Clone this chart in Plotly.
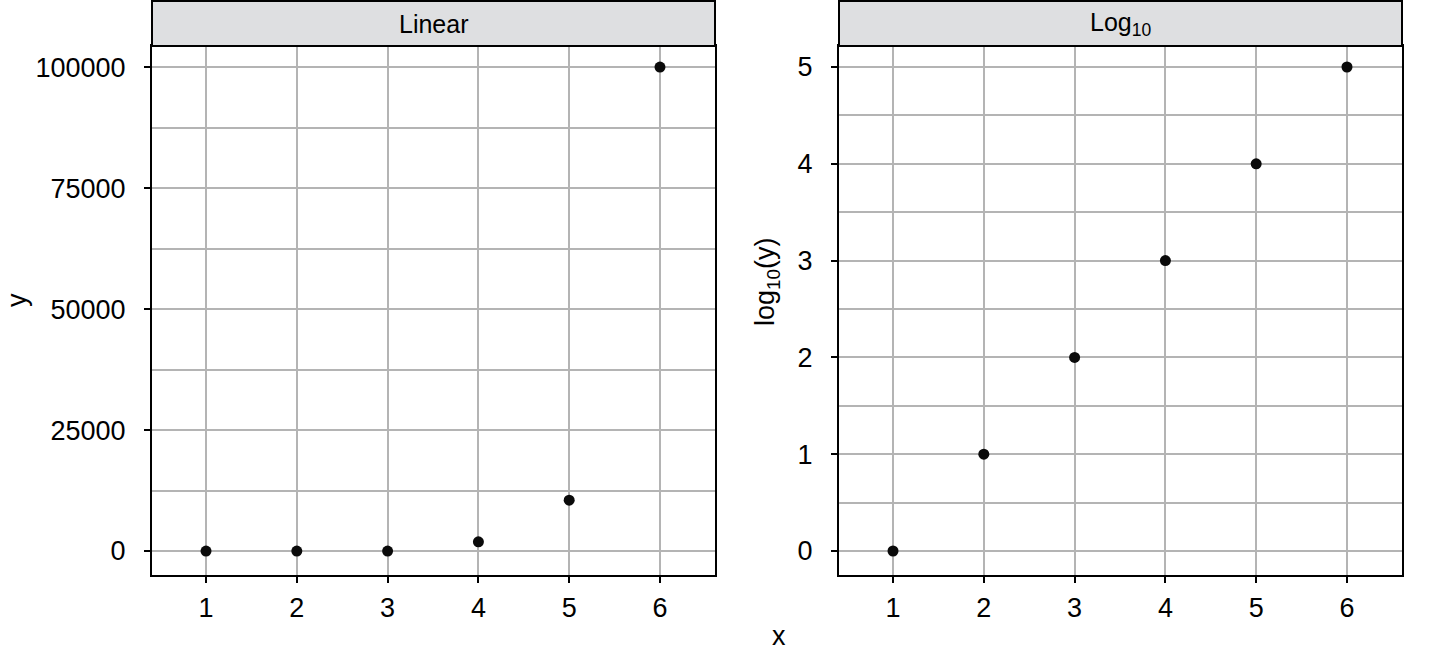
import plotly.graph_objects as go

# data
x_vals = [1, 2, 3, 4, 5, 6]
linear_y = [0, 0, 0, 1900, 10500, 100000]
log10_y = [0, 1, 2, 3, 4, 5]
x_ticks = [1, 2, 3, 4, 5, 6]
linear_ticks = [0, 25000, 50000, 75000, 100000]
log_ticks = [0, 1, 2, 3, 4, 5]
panel_titles = ["Linear", "Log<sub>10</sub>"]

W, H = 1430, 653
FONT = "Liberation Sans, Arial, sans-serif"
GRID = "#b4b4b4"

# panel positions (pixels -> paper fractions)
left_dom = [152 / W, 715 / W]
right_dom = [839 / W, 1402 / W]
y_dom = [1 - 575 / H, 1 - 46 / H]
strip_top = 1 - 1 / H

fig = go.Figure()
fig.add_trace(go.Scatter(x=x_vals, y=linear_y, mode="markers", xaxis="x", yaxis="y",
                         marker=dict(color="#0a0a0a", size=11), showlegend=False))
fig.add_trace(go.Scatter(x=x_vals, y=log10_y, mode="markers", xaxis="x2", yaxis="y2",
                         marker=dict(color="#0a0a0a", size=11), showlegend=False))

axis_common = dict(
    showline=True, linecolor="black", linewidth=2, mirror=True,
    ticks="outside", ticklen=6, tickwidth=2, tickcolor="black",
    showgrid=True, gridcolor=GRID, gridwidth=1.6, zeroline=False,
    tickfont=dict(family=FONT, size=27, color="black"),
    tickformat="d",
)

fig.update_layout(
    width=W, height=H,
    margin=dict(l=0, r=0, t=0, b=0),
    paper_bgcolor="white", plot_bgcolor="white",
    font=dict(family=FONT, color="black"),
    xaxis=dict(domain=left_dom, range=[0.405, 6.606], tickvals=x_ticks,
               anchor="y", ticklabelstandoff=2, **axis_common),
    yaxis=dict(domain=y_dom, range=[-4950, 104350], tickvals=linear_ticks,
               anchor="x", ticklabelstandoff=13,
               minor=dict(dtick=12500, tick0=0, showgrid=True, gridcolor=GRID, gridwidth=1.6, ticks=""),
               **axis_common),
    xaxis2=dict(domain=right_dom, range=[0.405, 6.606], tickvals=x_ticks,
                anchor="y2", ticklabelstandoff=2, **axis_common),
    yaxis2=dict(domain=y_dom, range=[-0.248, 5.217], tickvals=log_ticks,
                anchor="x2", ticklabelstandoff=13,
                minor=dict(dtick=0.5, tick0=0, showgrid=True, gridcolor=GRID, gridwidth=1.6, ticks=""),
                **axis_common),
)

# facet strips
for dom, title in zip([left_dom, right_dom], panel_titles):
    fig.add_shape(type="rect", xref="paper", yref="paper",
                  x0=dom[0], x1=dom[1], y0=y_dom[1], y1=strip_top,
                  fillcolor="#dedfe1", line=dict(color="black", width=2))
    fig.add_annotation(text=title, xref="paper", yref="paper",
                       x=(dom[0] + dom[1]) / 2, y=(y_dom[1] + strip_top) / 2,
                       showarrow=False, xanchor="center", yanchor="middle",
                       font=dict(family=FONT, size=25, color="black"))

# axis titles
fig.add_annotation(text="y", xref="paper", yref="paper", x=17 / W, y=1 - 300 / H,
                   textangle=-90, showarrow=False, xanchor="center", yanchor="middle",
                   font=dict(family=FONT, size=27, color="black"))
fig.add_annotation(text="log<sub>10</sub>(y)", xref="paper", yref="paper", x=767 / W, y=1 - 282 / H,
                   textangle=-90, showarrow=False, xanchor="center", yanchor="middle",
                   font=dict(family=FONT, size=27, color="black"))
fig.add_annotation(text="x", xref="paper", yref="paper", x=779 / W, y=1 - 636 / H,
                   showarrow=False, xanchor="center", yanchor="middle",
                   font=dict(family=FONT, size=27, color="black"))

# drop the default page margin so the figure sits at the window's corner
fig.write_html("out.html", config={"displayModeBar": False},
               post_script="document.body.style.margin='0';")
